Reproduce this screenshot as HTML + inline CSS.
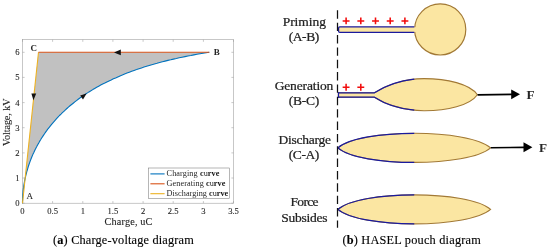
<!DOCTYPE html>
<html><head><meta charset="utf-8"><title>Figure</title>
<style>
html,body{margin:0;padding:0;background:#fff;}
svg{display:block;}
text{font-family:"Liberation Serif",serif;fill:#262626;}
.tk{font-size:8.6px;stroke:#262626;stroke-width:0.1px;}
.lab{font-size:10.2px;stroke:#262626;stroke-width:0.12px;}
.leg{font-size:8.2px;fill:#3c3c3c;}
.leg tspan{font-weight:bold;fill:#151515;}
.cap{font-size:12.3px;fill:#000;stroke:#000;stroke-width:0.12px;}
.row{font-size:13.5px;fill:#111;stroke:#111;stroke-width:0.22px;}
.ax path,.ax rect{stroke:#9a9a9a;stroke-width:0.55;fill:none;}
</style></head>
<body>
<svg width="550" height="251" viewBox="0 0 550 251">
<rect width="550" height="251" fill="#fff"/>
<!-- (a) charge-voltage plot -->
<polygon points="22.5,203.2 22.5,201.5 22.6,199.7 22.6,198.0 22.7,196.2 22.8,194.5 23.0,192.7 23.1,190.9 23.3,189.2 23.6,187.4 23.8,185.7 24.1,183.9 24.4,182.2 24.7,180.4 25.1,178.7 25.5,176.9 25.9,175.2 26.3,173.5 26.8,171.7 27.3,170.0 27.8,168.3 28.3,166.5 28.9,164.8 29.5,163.1 30.1,161.4 30.7,159.7 31.4,158.0 32.1,156.3 32.8,154.6 33.6,153.0 34.4,151.3 35.2,149.6 36.0,148.0 36.9,146.3 37.7,144.7 38.7,143.1 39.6,141.4 40.6,139.8 41.5,138.2 42.6,136.6 43.6,135.1 44.7,133.5 45.8,131.9 46.9,130.4 48.0,128.8 49.2,127.3 50.4,125.8 51.6,124.3 52.9,122.8 54.2,121.3 55.5,119.8 56.8,118.4 58.2,116.9 59.5,115.5 61.0,114.1 62.4,112.7 63.9,111.3 65.4,109.9 66.9,108.5 68.4,107.1 70.0,105.8 71.6,104.5 73.2,103.2 74.8,101.9 76.5,100.6 78.2,99.3 79.9,98.0 81.7,96.8 83.5,95.6 85.3,94.3 87.1,93.1 89.0,91.9 90.9,90.8 92.8,89.6 94.7,88.5 96.7,87.3 98.7,86.2 100.7,85.1 102.7,84.0 104.8,83.0 106.9,81.9 109.0,80.9 111.2,79.9 113.4,78.8 115.6,77.9 117.8,76.9 120.0,75.9 122.3,75.0 124.6,74.0 127.0,73.1 129.3,72.2 131.7,71.3 134.1,70.4 136.6,69.6 139.0,68.7 141.5,67.9 144.0,67.1 146.6,66.3 149.2,65.5 151.8,64.7 154.4,64.0 157.0,63.3 159.7,62.5 162.4,61.8 165.1,61.1 167.9,60.4 170.7,59.8 173.5,59.1 176.3,58.5 179.2,57.8 182.1,57.2 185.0,56.6 187.9,56.0 190.9,55.5 193.9,54.9 196.9,54.3 200.0,53.8 203.0,53.3 206.1,52.8 209.3,52.3 38.5,52.3" fill="#c1c1c1"/>
<g class="ax"><rect x="22.5" y="39.7" width="211.0" height="163.5"/><path d="M22.5,203.2v-2.1M22.5,39.7v2.1"/><path d="M52.6,203.2v-2.1M52.6,39.7v2.1"/><path d="M82.8,203.2v-2.1M82.8,39.7v2.1"/><path d="M112.9,203.2v-2.1M112.9,39.7v2.1"/><path d="M143.1,203.2v-2.1M143.1,39.7v2.1"/><path d="M173.2,203.2v-2.1M173.2,39.7v2.1"/><path d="M203.4,203.2v-2.1M203.4,39.7v2.1"/><path d="M233.5,203.2v-2.1M233.5,39.7v2.1"/><path d="M22.5,203.2h2.1M233.5,203.2h-2.1"/><path d="M22.5,178.0h2.1M233.5,178.0h-2.1"/><path d="M22.5,152.9h2.1M233.5,152.9h-2.1"/><path d="M22.5,127.7h2.1M233.5,127.7h-2.1"/><path d="M22.5,102.6h2.1M233.5,102.6h-2.1"/><path d="M22.5,77.4h2.1M233.5,77.4h-2.1"/><path d="M22.5,52.3h2.1M233.5,52.3h-2.1"/></g>
<polyline points="22.5,203.2 22.5,201.5 22.6,199.7 22.6,198.0 22.7,196.2 22.8,194.5 23.0,192.7 23.1,190.9 23.3,189.2 23.6,187.4 23.8,185.7 24.1,183.9 24.4,182.2 24.7,180.4 25.1,178.7 25.5,176.9 25.9,175.2 26.3,173.5 26.8,171.7 27.3,170.0 27.8,168.3 28.3,166.5 28.9,164.8 29.5,163.1 30.1,161.4 30.7,159.7 31.4,158.0 32.1,156.3 32.8,154.6 33.6,153.0 34.4,151.3 35.2,149.6 36.0,148.0 36.9,146.3 37.7,144.7 38.7,143.1 39.6,141.4 40.6,139.8 41.5,138.2 42.6,136.6 43.6,135.1 44.7,133.5 45.8,131.9 46.9,130.4 48.0,128.8 49.2,127.3 50.4,125.8 51.6,124.3 52.9,122.8 54.2,121.3 55.5,119.8 56.8,118.4 58.2,116.9 59.5,115.5 61.0,114.1 62.4,112.7 63.9,111.3 65.4,109.9 66.9,108.5 68.4,107.1 70.0,105.8 71.6,104.5 73.2,103.2 74.8,101.9 76.5,100.6 78.2,99.3 79.9,98.0 81.7,96.8 83.5,95.6 85.3,94.3 87.1,93.1 89.0,91.9 90.9,90.8 92.8,89.6 94.7,88.5 96.7,87.3 98.7,86.2 100.7,85.1 102.7,84.0 104.8,83.0 106.9,81.9 109.0,80.9 111.2,79.9 113.4,78.8 115.6,77.9 117.8,76.9 120.0,75.9 122.3,75.0 124.6,74.0 127.0,73.1 129.3,72.2 131.7,71.3 134.1,70.4 136.6,69.6 139.0,68.7 141.5,67.9 144.0,67.1 146.6,66.3 149.2,65.5 151.8,64.7 154.4,64.0 157.0,63.3 159.7,62.5 162.4,61.8 165.1,61.1 167.9,60.4 170.7,59.8 173.5,59.1 176.3,58.5 179.2,57.8 182.1,57.2 185.0,56.6 187.9,56.0 190.9,55.5 193.9,54.9 196.9,54.3 200.0,53.8 203.0,53.3 206.1,52.8 209.3,52.3" fill="none" stroke="#0072bd" stroke-width="1.1" stroke-linejoin="round"/>
<line x1="22.5" y1="203.2" x2="38.5" y2="52.3" stroke="#edb120" stroke-width="1.1"/>
<line x1="38.5" y1="52.3" x2="209.3" y2="52.3" stroke="#d95319" stroke-width="1.05"/>
<polygon points="114,52.4 120.8,49.6 120.8,55.2" fill="#111"/>
<polygon points="31.4,93.4 36.2,93.6 33.4,100.2" fill="#111"/>
<polygon points="86.6,93.6 80.2,95.6 83,99.4" fill="#111"/>
<g class="tk"><text x="22.5" y="214.2" text-anchor="middle">0</text><text x="52.6" y="214.2" text-anchor="middle">0.5</text><text x="82.8" y="214.2" text-anchor="middle">1</text><text x="112.9" y="214.2" text-anchor="middle">1.5</text><text x="143.1" y="214.2" text-anchor="middle">2</text><text x="173.2" y="214.2" text-anchor="middle">2.5</text><text x="203.4" y="214.2" text-anchor="middle">3</text><text x="233.5" y="214.2" text-anchor="middle">3.5</text><text x="19.6" y="206.1" text-anchor="end">0</text><text x="19.6" y="180.9" text-anchor="end">1</text><text x="19.6" y="155.8" text-anchor="end">2</text><text x="19.6" y="130.6" text-anchor="end">3</text><text x="19.6" y="105.5" text-anchor="end">4</text><text x="19.6" y="80.3" text-anchor="end">5</text><text x="19.6" y="55.2" text-anchor="end">6</text>
<text x="26.5" y="199.2" font-size="9">A</text>
<text x="213.8" y="55.4" font-size="9" font-weight="bold" stroke="none">B</text>
<text x="30.6" y="50.8" font-size="9" font-weight="bold" stroke="none">C</text>
</g>
<text class="lab" x="128.5" y="225.4" text-anchor="middle" textLength="47.8" lengthAdjust="spacing">Charge, uC</text>
<text class="lab" transform="translate(10,122.2) rotate(-90)" text-anchor="middle" textLength="47.4" lengthAdjust="spacing">Voltage, kV</text>
<rect x="148.4" y="168" width="81" height="30.5" fill="#fff" stroke="#6e6e6e" stroke-width="0.5"/>
<line x1="150.4" y1="173.9" x2="164.6" y2="173.9" stroke="#0072bd" stroke-width="1.1"/>
<line x1="150.4" y1="183.8" x2="164.6" y2="183.8" stroke="#d95319" stroke-width="1.1"/>
<line x1="150.4" y1="193.7" x2="164.6" y2="193.7" stroke="#edb120" stroke-width="1.1"/>
<g class="leg">
<text x="166.6" y="176.4" textLength="52.8" lengthAdjust="spacing">Charging <tspan>c</tspan>u<tspan>rve</tspan></text>
<text x="166.6" y="186.3" textLength="58.8" lengthAdjust="spacing">Generating <tspan>c</tspan>u<tspan>rve</tspan></text>
<text x="166.6" y="196.2" textLength="61.6" lengthAdjust="spacing">Discharging <tspan>c</tspan>u<tspan>rve</tspan></text>
</g>
<text class="cap" x="53" y="244.4" textLength="140.8" lengthAdjust="spacing">(<tspan font-weight="bold">a</tspan>) Charge-voltage diagram</text>

<!-- (b) HASEL pouch diagram -->
<g class="row" text-anchor="middle">
<text x="304.3" y="25.8" textLength="43.2" lengthAdjust="spacing">Priming</text>
<text x="304" y="41.2" textLength="30.6" lengthAdjust="spacing">(A-B)</text>
<text x="304" y="89.8" textLength="58.7" lengthAdjust="spacing">Generation</text>
<text x="304" y="104.9" textLength="30.4" lengthAdjust="spacing">(B-C)</text>
<text x="304.8" y="143.8" textLength="52.6" lengthAdjust="spacing">Discharge</text>
<text x="304" y="158.9" textLength="30.4" lengthAdjust="spacing">(C-A)</text>
<text x="304.5" y="206" textLength="28.2" lengthAdjust="spacing">Force</text>
<text x="304.4" y="221.6" textLength="46.2" lengthAdjust="spacing">Subsides</text>
</g>
<path d="M339.6,26.85 H416 V32.4 H339.6 Q338.5,32.4 338.5,31.299999999999997 V27.950000000000003 Q338.5,26.85 339.6,26.85 Z" fill="#fbe6a2" stroke="none"/><circle cx="440.2" cy="29.4" r="25.6" fill="#fbe6a2" stroke="#a27935" stroke-width="1.15"/><rect x="413" y="27.150000000000002" width="4" height="4.9499999999999975" fill="#fbe6a2"/><path d="M414.3,26.85 H339.8 Q338.6,26.85 338.6,28.05 V31.2 Q338.6,32.4 339.8,32.4 H414.3" fill="none" stroke="#1a1a9e" stroke-width="1.25"/>
<path d="M342.65,20.9h6.9M346.1,17.45v6.9M357.35,20.9h6.9M360.8,17.45v6.9M372.05,20.9h6.9M375.5,17.45v6.9M386.75,20.9h6.9M390.2,17.45v6.9M401.45,20.9h6.9M404.9,17.45v6.9M342.65,87.2h6.9M346.1,83.75v6.9M357.35,87.2h6.9M360.8,83.75v6.9" stroke="#f20d0d" stroke-width="1.55" fill="none"/>
<path d="M338.4,92.8 H374.5 C385.50,85.60 404.00,78.60 424.0,78.6 C446.95,78.60 469.90,83.97 477.40,94.70 C469.90,105.43 446.95,110.80 424.0,110.7 C404.00,110.70 385.50,104.40 374.5,97.2 H338.4 Z" fill="#fbe6a2" stroke="#a27935" stroke-width="1.1" stroke-linejoin="miter"/><path d="M338.4,92.8 H374.5 C383.69,86.78 398.13,80.90 414.29,79.14 M338.4,97.2 H374.5 C383.69,103.22 398.13,108.61 414.29,110.21" fill="none" stroke="#1a1a9e" stroke-width="1.25" stroke-linejoin="round"/><path d="M338.5,92.175 V97.825" stroke="#1a1a9e" stroke-width="1.2"/>
<line x1="477.6" y1="94.9" x2="512" y2="94.4" stroke="#000" stroke-width="1.6"/>
<polygon points="520,94.3 511.2,89.4 511.2,99.2" fill="#000"/>
<text x="526.6" y="98.9" font-size="13.2" font-weight="bold" fill="#000">F</text>
<path d="M337.90,147.85 C359.90,128.45 468.60,128.45 490.60,147.85 C468.60,167.25 359.90,167.25 337.90,147.85 Z" fill="#fbe6a2" stroke="#a27935" stroke-width="1.1" stroke-linejoin="miter"/><path d="M414.25,133.30 C381.57,133.30 348.90,138.15 337.90,147.85 C348.90,157.55 381.57,162.40 414.25,162.40" fill="none" stroke="#1a1a9e" stroke-width="1.25" stroke-linejoin="miter" stroke-miterlimit="3"/>
<line x1="490.8" y1="147.8" x2="524" y2="147.4" stroke="#000" stroke-width="1.6"/>
<polygon points="532.4,147.3 523.5,142.3 523.5,152.3" fill="#000"/>
<text x="539" y="151.6" font-size="13.2" font-weight="bold" fill="#000">F</text>
<path d="M337.90,209.35 C359.90,190.05 468.60,190.05 490.60,209.35 C468.60,228.65 359.90,228.65 337.90,209.35 Z" fill="#fbe6a2" stroke="#a27935" stroke-width="1.1" stroke-linejoin="miter"/><path d="M414.25,194.88 C381.57,194.87 348.90,199.70 337.90,209.35 C348.90,219.00 381.57,223.82 414.25,223.82" fill="none" stroke="#1a1a9e" stroke-width="1.25" stroke-linejoin="miter" stroke-miterlimit="3"/>
<line x1="337.5" y1="10.3" x2="337.5" y2="227.8" stroke="#111" stroke-width="1.25" stroke-dasharray="8.4 3.96"/>
<text class="cap" x="342.4" y="244.4" textLength="138.4" lengthAdjust="spacing">(<tspan font-weight="bold">b</tspan>) HASEL pouch diagram</text>
</svg>
</body></html>
